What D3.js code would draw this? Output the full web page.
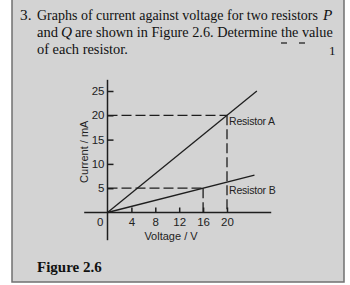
<!DOCTYPE html>
<html>
<head>
<meta charset="utf-8">
<script src="https://cdn.jsdelivr.net/npm/d3@7"></script>
<style>
  body { margin: 0; background: #fff; }
  svg { display: block; }
  .q { font-family: "Liberation Serif", "Times New Roman", serif; fill: #111; }
  .ax { font-family: "Liberation Sans", Arial, sans-serif; fill: #222; }
</style>
</head>
<body>
<svg id="chart" width="350" height="285"></svg>
<script>

// Chart values
const voltTicks = [4, 8, 12, 16, 20];
const currTicks = [5, 10, 15, 20, 25];
const resistors = ['Resistor A', 'Resistor B'];
const readV = [20, 16];      // voltage (dashed guides)
const readI = [20, 5];       // current at that voltage, mA
const endV = [25, 24.6];     // where each drawn line stops
const endI = [25, 7.7];

const svg = d3.select('#chart');

// Grey panel with border (top edge runs off the page)
svg.append('rect')
  .attr('x', 12).attr('y', -5)
  .attr('width', 332).attr('height', 287)
  .attr('fill', '#d3d3d3')
  .attr('stroke', '#707070')
  .attr('stroke-width', 1.5);

// Question text, piece by piece; squeezed horizontally to the scanned width
function qText(str, px, py, len, italic) {
  const t = svg.append('text').attr('class', 'q')
    .attr('transform', `translate(${px},${py})`)
    .style('font-size', '15.3px')
    .text(str);
  if (italic) t.style('font-style', 'italic');
  if (len) {
    const natural = t.node().getComputedTextLength();
    t.attr('transform', `translate(${px},${py}) scale(${len / natural},1)`);
  }
  return t;
}
qText('3.', 20, 20);
qText('Graphs of current against voltage for two resistors', 37, 20, 281);
qText('P', 323, 20, 0, true);
qText('and', 37, 37, 21);
qText('Q', 61, 37, 0, true);
qText('are shown in Figure 2.6. Determine the value', 75, 37, 258);
qText('of each resistor.', 37, 54, 91);

// clipped marks at right of third line
svg.append('g').attr('stroke', '#222').attr('stroke-width', 1.3)
  .selectAll('line').data([281, 299]).join('line')
  .attr('x1', d => d).attr('x2', d => d + 6)
  .attr('y1', 43).attr('y2', 43);
svg.append('text').attr('class', 'q')
  .attr('x', 329).attr('y', 55).style('font-size', '13px').text('1');

// Scales
const x = d3.scaleLinear().domain([0, 20]).range([107.5, 227]);
const y = d3.scaleLinear().domain([0, 25]).range([212.5, 91]);

const ink = '#1e1e1e';

// Axis lines (extend past the origin)
svg.append('line')
  .attr('x1', x(-3.9)).attr('x2', x(27.4))
  .attr('y1', y(0)).attr('y2', y(0))
  .attr('stroke', ink).attr('stroke-width', 1.5);
svg.append('line')
  .attr('x1', x(0)).attr('x2', x(0))
  .attr('y1', y(27.3)).attr('y2', y(-5.7))
  .attr('stroke', ink).attr('stroke-width', 1.5);

// Axes: ticks point into the plot
const xAxis = svg.append('g')
  .attr('transform', `translate(0,${y(0)})`)
  .call(d3.axisBottom(x).tickValues(voltTicks).tickSize(-5).tickPadding(5));
const yAxis = svg.append('g')
  .attr('transform', `translate(${x(0)},0)`)
  .call(d3.axisLeft(y).tickValues(currTicks).tickSize(-6).tickPadding(3));

[xAxis, yAxis].forEach(g => {
  g.select('.domain').remove();
  g.selectAll('line').attr('stroke', ink).attr('stroke-width', 1.5);
  g.selectAll('text').attr('class', 'ax')
    .attr('font-family', null).style('font-size', '11.5px').attr('fill', '#222');
});

// origin label
svg.append('text').attr('class', 'ax')
  .attr('x', x(0) - 4).attr('y', y(0) + 13)
  .attr('text-anchor', 'end').style('font-size', '11.5px').text('0');

// Axis titles
svg.append('text').attr('class', 'ax')
  .attr('transform', `translate(88,${y(12.5)}) rotate(-90)`)
  .attr('text-anchor', 'middle').style('font-size', '11px')
  .text('Current / mA');
svg.append('text').attr('class', 'ax')
  .attr('x', 171).attr('y', 240)
  .attr('text-anchor', 'middle').style('font-size', '11px')
  .text('Voltage / V');

// Dashed read-off guides
const guides = svg.append('g')
  .attr('stroke', ink).attr('stroke-width', 1.3)
  .attr('stroke-dasharray', '10,4').attr('fill', 'none');
resistors.forEach((r, i) => {
  guides.append('line')
    .attr('x1', x(0)).attr('x2', x(readV[i]))
    .attr('y1', y(readI[i])).attr('y2', y(readI[i]));
  guides.append('line')
    .attr('x1', x(readV[i])).attr('x2', x(readV[i]))
    .attr('y1', y(readI[i])).attr('y2', y(0));
});

// Resistor lines through the origin
const line = d3.line().x(d => x(d[0])).y(d => y(d[1]));
resistors.forEach((r, i) => {
  svg.append('path')
    .attr('d', line([[0, 0], [endV[i], endI[i]]]))
    .attr('stroke', ink).attr('stroke-width', 1.3).attr('fill', 'none');
});

// Line labels, just right of the 20 V guide
const labelDy = [10, 6];
resistors.forEach((r, i) => {
  svg.append('text').attr('class', 'ax')
    .attr('x', x(20) + 2).attr('y', y(readI[i]) + labelDy[i])
    .style('font-size', '10.5px').style('letter-spacing', '-0.2px')
    .text(r);
});

// Caption
svg.append('text').attr('class', 'q')
  .attr('x', 37).attr('y', 272)
  .style('font-size', '15px').style('font-weight', 'bold')
  .text('Figure 2.6');

</script>
</body>
</html>
